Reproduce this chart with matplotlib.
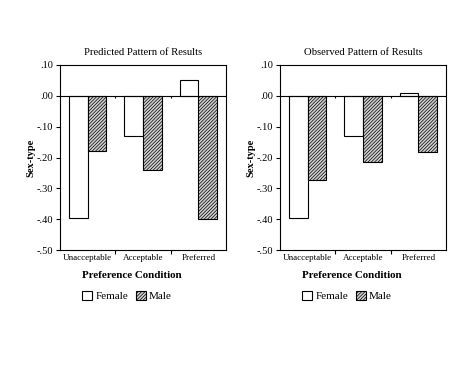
import matplotlib
matplotlib.use("Agg")
import matplotlib.pyplot as plt
import numpy as np
from matplotlib.patches import Patch

plt.rcParams['font.family'] = ['Liberation Serif', 'DejaVu Serif']
plt.rcParams['hatch.linewidth'] = 0.5
plt.rcParams['hatch.color'] = '#7a7a7a'

conditions = ["Unacceptable", "Acceptable", "Preferred"]
titles = ["Predicted Pattern of Results", "Observed Pattern of Results"]
female_pred = [-0.395, -0.13, 0.05]
male_pred = [-0.18, -0.24, -0.40]
female_obs = [-0.395, -0.13, 0.008]
male_obs = [-0.272, -0.213, -0.182]
yticks = [0.10, 0.0, -0.10, -0.20, -0.30, -0.40, -0.50]
ytick_labels = [".10", ".00", "-.10", "-.20", "-.30", "-.40", "-.50"]

fig = plt.figure(figsize=(4.74, 3.66), dpi=100)
# axes boxes in pixels: left panel 60-226, right 280-446, y 65-250
W, H = 474, 366
boxes = [60, 280]
data = [(female_pred, male_pred), (female_obs, male_obs)]
x = np.arange(len(conditions))
bw = 0.34
male_face = '#d0d0d0'
male_hatch = '//////////'

for l, (fem, mal), title in zip(boxes, data, titles):
    ax = fig.add_axes([l / W, (H - 250) / H, 166 / W, 185 / H])
    ax.bar(x - bw / 2, fem, bw, color='white', edgecolor='black', linewidth=0.8)
    ax.bar(x + bw / 2, mal, bw, color=male_face, edgecolor='black', linewidth=0.8,
           hatch=male_hatch)
    ax.axhline(0, color='black', linewidth=0.8)
    ax.set_xlim(-0.5, 2.5)
    ax.set_ylim(-0.5, 0.1)
    ax.set_yticks(yticks)
    ax.set_yticklabels(ytick_labels, fontsize=7.5)
    ax.set_xticks([0.5, 1.5], minor=False)
    ax.set_xticklabels([])
    ax.set_xticks(x, minor=True)
    ax.set_xticklabels(conditions, minor=True, fontsize=6.5)
    ax.tick_params(axis='x', which='minor', length=0, pad=3)
    ax.tick_params(axis='x', which='major', length=3, width=0.8)
    ax.tick_params(axis='y', length=3, width=0.8, pad=2)
    ax.vlines([0.5, 1.5], -0.008, 0, color='black', linewidth=0.8)
    for s in ax.spines.values():
        s.set_linewidth(0.8)
    ax.set_title(title, fontsize=7.7, pad=7)
    ax.set_ylabel("Sex-type", fontsize=7.5, fontweight='bold', labelpad=1)
    fig.text((l + 72) / W, 1 - 275 / H, "Preference Condition", fontsize=7.9,
             fontweight='bold', ha='center', va='center')
    handles = [Patch(facecolor='white', edgecolor='black', linewidth=0.8, label='Female'),
               Patch(facecolor=male_face, edgecolor='black', linewidth=0.8,
                     hatch=male_hatch, label='Male')]
    fig.legend(handles=handles, loc='center', bbox_to_anchor=((l + 67) / W, 1 - 296 / H),
               ncol=2, frameon=False, fontsize=8, handlelength=0.9, handleheight=0.9,
               handletextpad=0.3, columnspacing=0.7, borderpad=0)

fig.savefig("out.png", dpi=100)
